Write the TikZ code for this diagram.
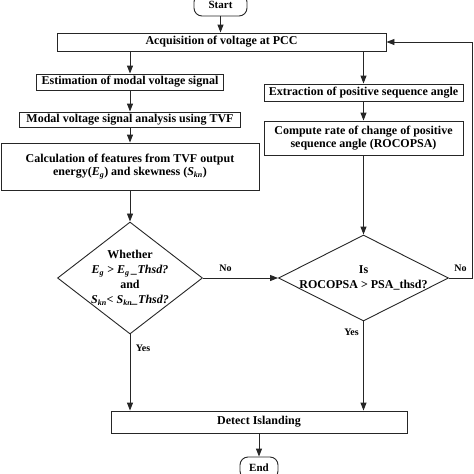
\documentclass[tikz,border=0pt]{standalone}
\usepackage{fontspec}
\setmainfont{Liberation Serif}
\usetikzlibrary{arrows.meta, shapes.geometric}

\newcommand{\Eg}{\textit{E}\textsubscript{\textit{g}}}
\newcommand{\Skn}{\textit{S}\textsubscript{\textit{kn}}}

\begin{document}
\begin{tikzpicture}[
    x=1pt, y=-1pt,
    stepbox/.style={
        rectangle, draw, fill=white, inner sep=1pt,
        align=center, font=\bfseries\fontsize{12}{13.5}\selectfont
    },
    term/.style={
        rectangle, rounded corners=8pt, draw, fill=white,
        minimum height=22pt, inner sep=2pt,
        font=\bfseries\fontsize{11}{13}\selectfont
    },
    decision/.style={
        diamond, draw, fill=white, inner sep=-2pt,
        align=center, font=\bfseries\fontsize{12}{15}\selectfont
    },
    lbl/.style={font=\bfseries\fontsize{10}{12}\selectfont},
    >={Triangle[length=8pt,width=6pt]}, line width=0.9pt, draw=black!85
]
\useasboundingbox (0,0) rectangle (474,474);

\node[term, minimum width=53pt] (start) at (220.5,5) {Start};
\node[stepbox, minimum width=329pt, minimum height=18pt] (acq) at (221.5,42) {Acquisition of voltage at PCC};

% left branch
\node[stepbox, minimum width=187pt, minimum height=16pt] (est) at (130,82) {Estimation of modal voltage signal};
\node[stepbox, minimum width=221pt, minimum height=15pt] (tvf) at (130,119.5) {Modal voltage signal analysis using TVF};
\node[stepbox, minimum width=258pt, minimum height=47pt] (feat) at (130,166.5) {Calculation of features from TVF output\\energy(\Eg) and skewness (\Skn)};
\node[decision, aspect=1.3, inner sep=-6pt, minimum width=145pt, minimum height=112pt] (dec1) at (130,278)
    {Whether\\{\itshape E\textsubscript{g} > E\textsubscript{g}\,\_Thsd?}\\and\\{\itshape S\textsubscript{kn}< S\textsubscript{kn}\_Thsd?}};

% right branch
\node[stepbox, minimum width=199pt, minimum height=17pt] (ext) at (363.5,92.5) {Extraction of positive sequence angle};
\node[stepbox, minimum width=199pt, minimum height=34pt] (rocop) at (363.5,138) {Compute rate of change of positive\\sequence angle (ROCOPSA)};
\node[decision, aspect=2, minimum width=170pt, minimum height=86pt] (dec2) at (363.5,278) {Is\\ROCOPSA > PSA\_thsd?};

\node[stepbox, minimum width=296pt, minimum height=22pt] (detect) at (259,422) {Detect Islanding};
\node[term, minimum width=38pt] (end) at (259,468) {End};

\draw[->] (start) -- (start |- acq.north);
\draw[->] (est |- acq.south) -- (est);
\draw[->] (ext |- acq.south) -- (ext);
\draw[->] (est) -- (tvf);
\draw[->] (tvf) -- (feat);
\draw[->] (feat) -- (dec1);
\draw[->] (ext) -- (rocop);
\draw[->] (rocop) -- (dec2);
\draw[->] (dec1) -- node[lbl, pos=0.3, above=3pt] {No} (dec2);
\draw[->] (dec2.east) -- node[lbl, above=3pt] {No} ++(23,0) |- (acq);
\draw[->] (dec1) -- node[lbl, pos=0.18, right=2pt] {Yes} (dec1 |- detect.north);
\draw[->] (dec2) -- node[lbl, pos=0.12, left=1pt] {Yes} (dec2 |- detect.north);
\draw[->] (detect) -- (end);

\end{tikzpicture}
\end{document}
